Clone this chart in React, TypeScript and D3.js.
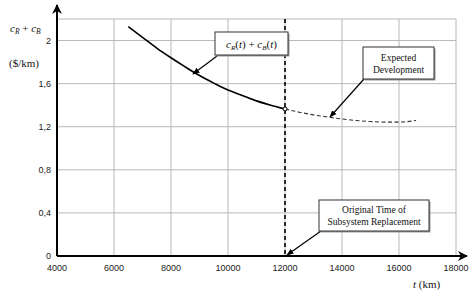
import React from "react";
import * as d3 from "d3";

const xTicks = [4000, 6000, 8000, 10000, 12000, 14000, 16000, 18000];
const yTicks = [0, 0.4, 0.8, 1.2, 1.6, 2];
const yTickLabels = ["0", "0,4", "0,8", "1,2", "1,6", "2"];
const actualT = [6500, 7000, 7500, 8000, 8500, 9000, 9500, 10000, 10500, 11000, 11500, 12000];
const actualC = [2.13, 2.03, 1.93, 1.84, 1.755, 1.675, 1.605, 1.54, 1.49, 1.44, 1.4, 1.365];
const expectedT = [12000, 12500, 13000, 13500, 14000, 14500, 15000, 15500, 16000, 16600];
const expectedC = [1.365, 1.335, 1.31, 1.29, 1.272, 1.258, 1.248, 1.243, 1.243, 1.258];
const replaceT = 12000;

export default function App() {
  const x = d3.scaleLinear().domain([4000, 18000]).range([57, 456]);
  const y = d3.scaleLinear().domain([0, 2.2]).range([256, 19]);
  const line = d3
    .line<[number, number]>()
    .x((d) => x(d[0]))
    .y((d) => y(d[1]))
    .curve(d3.curveMonotoneX);
  const actual = actualT.map((t, i) => [t, actualC[i]] as [number, number]);
  const expected = expectedT.map((t, i) => [t, expectedC[i]] as [number, number]);
  const serif = "'Liberation Serif', 'Times New Roman', serif";
  const sans = "'Liberation Sans', Arial, sans-serif";
  const grid = "#b8b8b8";

  const box = (bx: number, by: number, w: number, h: number) => (
    <g>
      <rect x={bx + 1.5} y={by + 1.5} width={w} height={h} fill="#9a9a9a" />
      <rect x={bx} y={by} width={w} height={h} fill="#fff" stroke="#333" strokeWidth={1} />
    </g>
  );

  return (
    <svg width={474} height={295} style={{ position: "absolute", left: 0, top: 0 }}>
      <defs>
        <marker id="ah" viewBox="0 0 10 10" refX="9" refY="5" markerWidth="6" markerHeight="6" orient="auto">
          <path d="M0,1 L10,5 L0,9 Z" fill="#000" />
        </marker>
        <marker id="axh" viewBox="0 0 10 10" refX="9" refY="5" markerWidth="5" markerHeight="5" orient="auto">
          <path d="M0,0 L10,5 L0,10 L3,5 Z" fill="#000" />
        </marker>
      </defs>
      <rect width={474} height={295} fill="#fff" />
      {xTicks.slice(1).map((t) => (
        <line key={"gx" + t} x1={x(t)} x2={x(t)} y1={y(2.2)} y2={y(0)} stroke={grid} strokeWidth={1} />
      ))}
      {[...yTicks.slice(1), 2.2].map((v) => (
        <line key={"gy" + v} x1={x(4000)} x2={x(18000)} y1={y(v)} y2={y(v)} stroke={grid} strokeWidth={1} />
      ))}
      <line x1={x(4000)} x2={467} y1={y(0)} y2={y(0)} stroke="#000" strokeWidth={2} markerEnd="url(#axh)" />
      <line x1={x(4000)} x2={x(4000)} y1={y(0)} y2={5} stroke="#000" strokeWidth={2} markerEnd="url(#axh)" />
      {xTicks.map((t) => (
        <text key={"xt" + t} x={x(t)} y={271} fontSize={9} fontFamily={sans} textAnchor="middle" fill="#222">
          {t}
        </text>
      ))}
      {yTicks.map((v, i) => (
        <text key={"yt" + v} x={51} y={y(v) + 3} fontSize={9} fontFamily={sans} textAnchor="end" fill="#222">
          {yTickLabels[i]}
        </text>
      ))}
      <text x={10} y={32} fontSize={11} fontFamily={serif} fontStyle="italic" fill="#111">
        c<tspan fontSize={7.5} dy={2}>R</tspan>
        <tspan dy={-2} fontStyle="normal"> + </tspan>c<tspan fontSize={7.5} dy={2}>B</tspan>
      </text>
      <text x={9} y={67} fontSize={11} fontFamily={serif} fill="#111">($/km)</text>
      <text x={413} y={288} fontSize={11} fontFamily={serif} fill="#111">
        <tspan fontStyle="italic">t</tspan>  (km)
      </text>
      <line x1={x(replaceT)} x2={x(replaceT)} y1={y(2.2)} y2={y(0)} stroke="#000" strokeWidth={1.6} strokeDasharray="4,3" />
      <path d={line(actual) ?? ""} fill="none" stroke="#000" strokeWidth={1.6} />
      <path d={line(expected) ?? ""} fill="none" stroke="#333" strokeWidth={1.1} strokeDasharray="4,2.5" />
      <circle cx={x(replaceT)} cy={y(actualC[actualC.length - 1])} r={2} fill="#fff" stroke="#000" strokeWidth={1} />
      <line x1={217} y1={56} x2={193} y2={74} stroke="#000" strokeWidth={1.2} markerEnd="url(#ah)" />
      {box(215, 32, 73, 23)}
      <text x={251.5} y={48} fontSize={11} fontFamily={serif} textAnchor="middle" fill="#111">
        <tspan fontStyle="italic">c</tspan>
        <tspan fontSize={7} dy={2} fontStyle="italic">R</tspan>
        <tspan dy={-2}>(</tspan>
        <tspan fontStyle="italic">t</tspan>
        <tspan>) + </tspan>
        <tspan fontStyle="italic">c</tspan>
        <tspan fontSize={7} dy={2} fontStyle="italic">B</tspan>
        <tspan dy={-2}>(</tspan>
        <tspan fontStyle="italic">t</tspan>
        <tspan>)</tspan>
      </text>
      <line x1={364} y1={79} x2={330} y2={117} stroke="#000" strokeWidth={1.2} markerEnd="url(#ah)" />
      {box(363, 47, 71, 32)}
      <text x={398.5} y={60.5} fontSize={9.5} fontFamily={serif} textAnchor="middle" fill="#111">Expected</text>
      <text x={398.5} y={73} fontSize={9.5} fontFamily={serif} textAnchor="middle" fill="#111">Development</text>
      <line x1={321} y1={231} x2={287} y2={255} stroke="#000" strokeWidth={1.2} markerEnd="url(#ah)" />
      {box(319, 200, 110, 31)}
      <text x={374} y={212.5} fontSize={9.5} fontFamily={serif} textAnchor="middle" fill="#111">Original Time of</text>
      <text x={374} y={225} fontSize={9.5} fontFamily={serif} textAnchor="middle" fill="#111">Subsystem Replacement</text>
    </svg>
  );
}
